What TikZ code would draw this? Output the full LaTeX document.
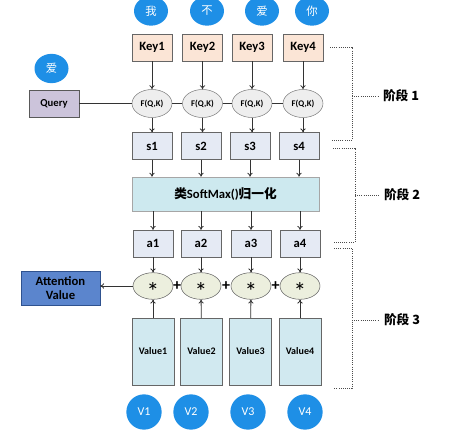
\documentclass[tikz,border=0pt]{standalone}
\usepackage{fontspec}
\setmainfont{Carlito}
\newfontfamily\cjk{Noto Sans CJK SC}
\usetikzlibrary{shapes.geometric, arrows.meta}
\usetikzlibrary{positioning}

\definecolor{keyfill}{HTML}{FBE5D6}
\definecolor{queryfill}{HTML}{CCC4DB}
\definecolor{ffill}{HTML}{EEEEEE}
\definecolor{sfill}{HTML}{E5EAF4}
\definecolor{softfill}{HTML}{CDE9EF}
\definecolor{starfill}{HTML}{ECEFDE}
\definecolor{valfill}{HTML}{D1E9F0}
\definecolor{attfill}{HTML}{5B85CD}
\definecolor{attdraw}{HTML}{2F528F}
\definecolor{dotblue}{HTML}{1E8FE6}

\tikzset{font={\bfseries\fontsize{9.5}{11}\selectfont}}
\tikzset{
	keybox/.style={rectangle, draw=gray!80!black, fill=keyfill, minimum width=30pt, minimum height=20pt, inner sep=0pt},
	scorebox/.style={rectangle, draw=gray!80!black, fill=sfill, minimum width=30pt, minimum height=20pt, inner sep=0pt},
	fqk/.style={ellipse, draw=gray, fill=ffill, minimum width=30pt, minimum height=21pt, inner sep=0pt, font={\bfseries\fontsize{6.5}{7}\selectfont}},
	starnode/.style={ellipse, draw=gray!80!black, fill=starfill, minimum width=30pt, minimum height=20pt, inner sep=0pt, font={\fontsize{19}{19}\selectfont}},
	valbox/.style={rectangle, draw=gray!80!black, fill=valfill, minimum width=31.5pt, minimum height=50pt, inner sep=0pt, font={\bfseries\fontsize{7.5}{8}\selectfont}},
	token/.style={ellipse, fill=dotblue, text=white, minimum width=25.5pt, minimum height=22pt, inner sep=0pt, font={\cjk\fontsize{8.5}{9}\selectfont}},
	vtoken/.style={circle, fill=dotblue, text=white, minimum size=26.5pt, inner sep=0pt, font={\fontsize{9}{10}\selectfont}},
	plusnode/.style={inner sep=0pt, font={\bfseries\fontsize{12}{12}\selectfont}},
	flow/.style={-{To[length=3pt,width=4pt]}, draw=black!80, semithick},
	link/.style={draw=black!80, semithick},
	bracket/.style={draw=black!70, densely dotted, semithick},
	stage/.style={font={\cjk\bfseries\fontsize{9.5}{11}\selectfont}}
}

\newcommand{\mulsign}{\raisebox{-0.56em}[0pt][0pt]{*}}

\begin{document}
\begin{tikzpicture}[x=0.75pt, y=-0.75pt]

	\useasboundingbox (0,0) rectangle (451,439);

	% tokens above the keys
	\node (tok1) [token] at (151,11) {我};
	\node (tok2) [token] at (207,11) {不};
	\node (tok3) [token] at (262,11) {爱};
	\node (tok4) [token] at (312,11) {你};

	% keys
	\node (key1) [keybox] at (152,47.5) {Key1};
	\node (key2) [keybox] at (202.5,47.5) {Key2};
	\node (key3) [keybox] at (252,47.5) {Key3};
	\node (key4) [keybox] at (303,47.5) {Key4};

	% query
	\node (qtok) [token] at (51.5,68.5) {爱};
	\node (query) [rectangle, draw=gray!70!black, fill=queryfill, minimum width=37.5pt, minimum height=20pt, inner sep=0pt, font={\bfseries\fontsize{8}{9}\selectfont}] at (54,103.5) {Query};

	% similarity F(Q,K)
	\node (f1) [fqk] at (152,103.5) {F(Q,K)};
	\node (f2) [fqk] at (202.5,103.5) {F(Q,K)};
	\node (f3) [fqk] at (252,103.5) {F(Q,K)};
	\node (f4) [fqk] at (303,103.5) {F(Q,K)};

	\draw[link] (query.east) -- (f1.west);
	\draw[link] (f1.east) -- (f2.west);
	\draw[link] (f2.east) -- (f3.west);
	\draw[link] (f3.east) -- (f4.west);

	\draw[flow] (key1) -- (f1);
	\draw[flow] (key2) -- (f2);
	\draw[flow] (key3) -- (f3);
	\draw[flow] (key4) -- (f4);

	% scores
	\node (s1) [scorebox] at (152,146) {s1};
	\node (s2) [scorebox] at (201,146) {s2};
	\node (s3) [scorebox] at (250,146) {s3};
	\node (s4) [scorebox] at (299,146) {s4};

	\draw[flow] (f1) -- (s1);
	\draw[flow] (f2.south) -- (f2.south |- s2.north);
	\draw[flow] (f3.south) -- (f3.south |- s3.north);
	\draw[flow] (f4.south) -- (f4.south |- s4.north);

	% normalisation
	\node (soft) [rectangle, draw=gray!70, fill=softfill, minimum width=140pt, minimum height=25.5pt, inner sep=0pt] at (225.5,194) {{\cjk 类}SoftMax(){\cjk 归一化}};

	\draw[flow] (s1.south) -- (s1.south |- soft.north);
	\draw[flow] (s2.south) -- (s2.south |- soft.north);
	\draw[flow] (s3.south) -- (s3.south |- soft.north);
	\draw[flow] (s4.south) -- (s4.south |- soft.north);

	% weights
	\node (a1) [scorebox] at (153,243.5) {a1};
	\node (a2) [scorebox] at (201,243.5) {a2};
	\node (a3) [scorebox] at (251,243.5) {a3};
	\node (a4) [scorebox] at (300,243.5) {a4};

	\draw[flow] (soft.south -| a1) -- (a1);
	\draw[flow] (soft.south -| a2) -- (a2);
	\draw[flow] (soft.south -| a3) -- (a3);
	\draw[flow] (soft.south -| a4) -- (a4);

	% weighted sum
	\node (m1) [starnode] at (153,286) {\mulsign};
	\node (m2) [starnode] at (201,286) {\mulsign};
	\node (m3) [starnode] at (251,286) {\mulsign};
	\node (m4) [starnode] at (300,286) {\mulsign};

	\node (p12) [plusnode] at (177,286) {+};
	\node (p23) [plusnode] at (226,286) {+};
	\node (p34) [plusnode] at (275.5,286) {+};

	\draw[flow] (a1) -- (m1);
	\draw[flow] (a2) -- (m2);
	\draw[flow] (a3) -- (m3);
	\draw[flow] (a4) -- (m4);

	\node (att) [rectangle, draw=attdraw, fill=attfill, minimum width=59pt, minimum height=25.5pt, inner sep=0pt, align=center, font={\bfseries\fontsize{9.5}{10}\selectfont}] at (60.5,288) {Attention\\Value};

	\draw[flow] (m1.west) -- (att.east |- m1.west);

	% values
	\node (val1) [valbox] at (153,351.5) {Value1};
	\node (val2) [valbox] at (201.5,351.5) {Value2};
	\node (val3) [valbox] at (250.5,351.5) {Value3};
	\node (val4) [valbox] at (300,351.5) {Value4};

	\draw[flow] (val1) -- (m1);
	\draw[flow] (val2) -- (m2);
	\draw[flow] (val3) -- (m3);
	\draw[flow] (val4) -- (m4);

	\node (v1) [vtoken] at (144,412) {V1};
	\node (v2) [vtoken] at (191,412) {V2};
	\node (v3) [vtoken] at (248,412) {V3};
	\node (v4) [vtoken] at (305,412) {V4};

	% stage brackets
	\coordinate (b1top) at (330,47);
	\coordinate (b1bot) at (332,140);
	\draw[bracket] (b1top) -- (352,47) -- (352,140) -- (b1bot);
	\node (stage1) [stage] at (401,96) {阶段 1};
	\draw[bracket] (352,96) -- (stage1.west);

	\coordinate (b2top) at (333,148);
	\coordinate (b2bot) at (333,242);
	\draw[bracket] (b2top) -- (355,148) -- (355,242) -- (b2bot);
	\node (stage2) [stage] at (402,195) {阶段 2};
	\draw[bracket] (355,195) -- (stage2.west);

	\coordinate (b3top) at (334,248);
	\coordinate (b3bot) at (334,388);
	\draw[bracket] (b3top) -- (352,248) -- (352,388) -- (b3bot);
	\node (stage3) [stage] at (402,320) {阶段 3};
	\draw[bracket] (352,320) -- (stage3.west);

\end{tikzpicture}
\end{document}
